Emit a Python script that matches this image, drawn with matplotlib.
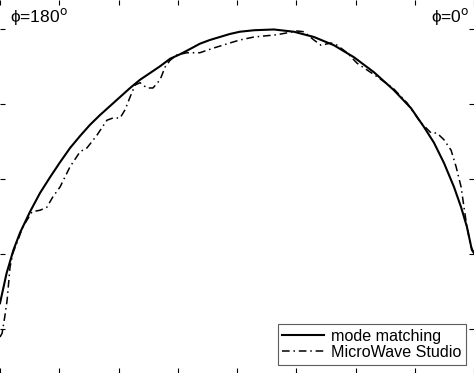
import numpy as np
import matplotlib
matplotlib.use("Agg")
import matplotlib.pyplot as plt

plt.rcParams['font.family'] = ['Liberation Sans', 'DejaVu Sans']

# normalized pattern vs. angle phi (deg)
phi_mm = [180, 177.5, 174.9, 172.4, 168.6, 164.8, 161.0, 157.2, 153.4, 149.6,
          145.8, 142.0, 138.2, 134.4, 130.6, 126.8, 123.0, 119.2, 115.4, 111.6,
          107.8, 104.1, 100.3, 96.5, 92.7, 88.9, 83.5, 76.0, 68.4, 60.8,
          53.2, 45.6, 38.0, 30.4, 23.9, 19.0, 15.2, 11.4, 7.6, 4.9,
          2.7, 0.8, 0]
e_mm = [0.635, 0.675, 0.706, 0.729, 0.757, 0.782, 0.803, 0.823, 0.842, 0.858,
        0.873, 0.886, 0.898, 0.910, 0.922, 0.933, 0.942, 0.951, 0.961, 0.967,
        0.974, 0.981, 0.986, 0.990, 0.994, 0.997, 0.999, 1.0, 0.997, 0.990,
        0.979, 0.963, 0.943, 0.919, 0.895, 0.870, 0.849, 0.822, 0.790, 0.763,
        0.737, 0.706, 0.702]

phi_mws = [180, 179.2, 178.1, 177.3, 176.2, 175.1, 173.2, 171.3, 167.8, 164.8,
           162.2, 159.9, 157.2, 153.4, 149.6, 147.0, 143.2, 139.4, 137.1, 134.4,
           132.5, 130.6, 128.7, 126.8, 124.2, 121.9, 119.2, 117.3, 115.4, 112.8,
           109.0, 104.1, 99.1, 92.7, 88.9, 83.5, 74.8, 67.2, 64.6, 60.8,
           58.1, 54.3, 52.0, 48.2, 44.4, 36.8, 30.8, 25.4, 20.5, 16.3,
           14.1, 11.4, 8.7, 6.8, 4.9, 3.8, 2.7, 1.1, 0]
e_mws = [0.590, 0.595, 0.619, 0.639, 0.683, 0.702, 0.719, 0.737, 0.757, 0.759,
         0.763, 0.777, 0.790, 0.817, 0.837, 0.842, 0.859, 0.879, 0.882, 0.882,
         0.893, 0.910, 0.926, 0.929, 0.922, 0.922, 0.933, 0.950, 0.959, 0.966,
         0.969, 0.969, 0.975, 0.982, 0.986, 0.990, 0.993, 0.998, 0.997, 0.986,
         0.979, 0.982, 0.979, 0.969, 0.955, 0.937, 0.922, 0.902, 0.877, 0.862,
         0.862, 0.853, 0.839, 0.817, 0.790, 0.763, 0.737, 0.710, 0.702]

fig = plt.figure(figsize=(4.74, 3.73), dpi=100)
ax = fig.add_axes([0, 0, 1, 1])

ax.plot(phi_mm, e_mm, color='black', lw=1.5, label='mode matching')
ax.plot(phi_mws, e_mws, color='black', lw=1.1, dashes=(5, 2.5, 1, 2.5),
        label='MicroWave Studio')

ax.set_xlim(180, 0)
ax.set_ylim(0.542, 1.0393)
ax.set_xticks(np.arange(0, 181, 22.5))
ax.set_yticks([0.6, 0.7, 0.8, 0.9, 1.0])
ax.tick_params(direction='in', length=3.6, width=0.8, top=True, right=True,
               labelleft=False, labelbottom=False)
for s in ax.spines.values():
    s.set_visible(False)

ax.text(0.021, 0.94, 'ϕ=180$^{\\rm o}$', transform=ax.transAxes, fontsize=12.5)
ax.text(0.91, 0.94, 'ϕ=0$^{\\rm o}$', transform=ax.transAxes, fontsize=12.5)

leg = ax.legend(loc='lower right', fontsize=11.6, frameon=True, fancybox=False,
                borderaxespad=0.5, handlelength=2.6, borderpad=0.3,
                labelspacing=0.1, handletextpad=0.4)
leg.get_frame().set_edgecolor('#333333')
leg.get_frame().set_linewidth(0.8)

fig.savefig('out.png', dpi=100)
